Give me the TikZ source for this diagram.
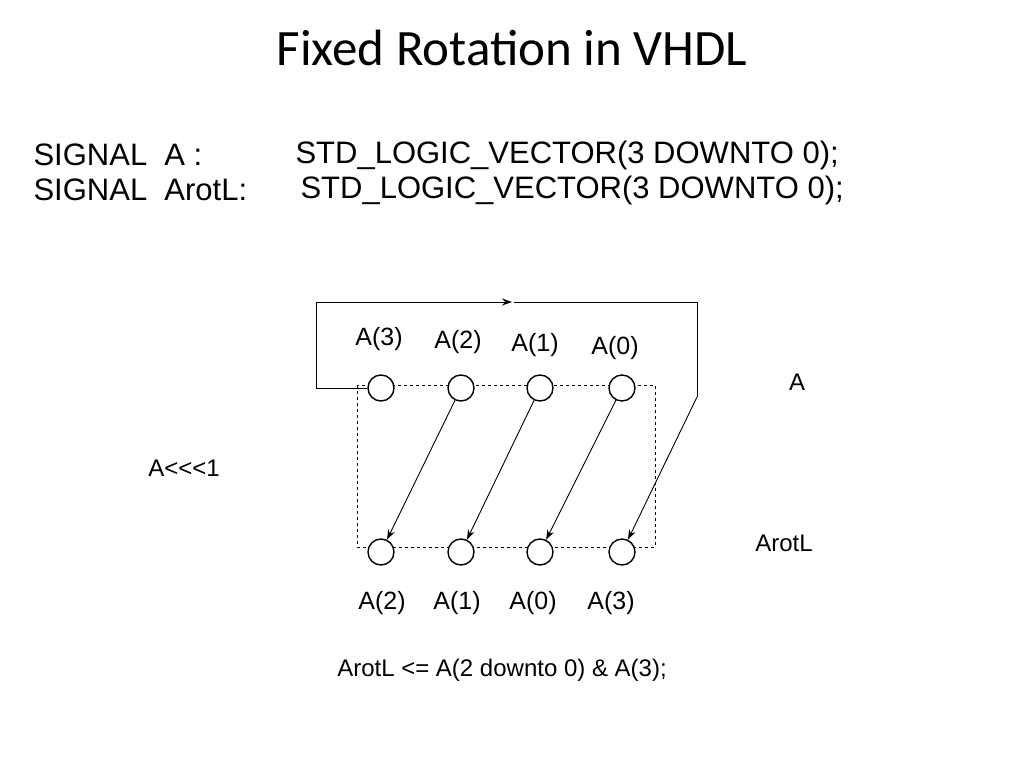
\documentclass[tikz,border=0pt]{standalone}
\usepackage{fontspec}
\setmainfont{Liberation Sans}
\newfontfamily\titlefont{Carlito}
\usetikzlibrary{arrows.meta}
\begin{document}
\begin{tikzpicture}[x=1pt,y=-1pt,
  bit/.style={circle,draw,line width=1.4pt,minimum size=26pt,inner sep=0pt},
  lbl/.style={font=\fontsize{25}{28}\selectfont},
  small/.style={font=\fontsize{24}{28}\selectfont},
  code/.style={font=\fontsize{31}{36}\selectfont,anchor=west},
  arr/.style={-{Stealth[length=10pt,width=7pt]},line width=0.9pt}]
\useasboundingbox (0,0) rectangle (1024,768);
\node[font=\titlefont\fontsize{51}{58}\selectfont] (title) at (512,48) {Fixed Rotation in VHDL};
\node[code] (c1) at (30,155) {SIGNAL\ \ A :};
\node[code] (c1b) at (292,155) {STD\_LOGIC\_VECTOR(3 DOWNTO 0);};
\node[code] (c2) at (30,190) {SIGNAL\ \ ArotL:};
\node[code] (c2b) at (297,190) {STD\_LOGIC\_VECTOR(3 DOWNTO 0);};
\draw[dashed,line width=0.7pt] (357,385) rectangle (655,547);
\foreach \i/\x in {3/381,2/461,1/540,0/622}{
  \node[bit,fill=white] (t\i) at (\x,388) {};
}
\foreach \i/\x in {0/381,1/461,2/540,3/622}{
  \node[bit,fill=white] (b\i) at (\x,552) {};
}
\node[lbl] (l3) at (379,339) {A(3)};
\node[lbl] (l2) at (458,342) {A(2)};
\node[lbl] (l1) at (535,345) {A(1)};
\node[lbl] (l0) at (615,348) {A(0)};
\node[lbl] (m0) at (382,603) {A(2)};
\node[lbl] (m1) at (457,603) {A(1)};
\node[lbl] (m2) at (533,603) {A(0)};
\node[lbl] (m3) at (611,603) {A(3)};
\node[small] (na) at (797,382) {A};
\node[small] (nr) at (784,543) {ArotL};
\node[small] (ns) at (184,468) {A{<}{<}{<}1};
\node[small] (eq) at (502,670) {ArotL {<}= A(2 downto 0) \& A(3);};
\draw[arr] (t2) -- (b0);
\draw[arr] (t1) -- (b1);
\draw[arr] (t0) -- (b2);
\coordinate (p1) at (316,388);
\coordinate (p2) at (316,302);
\coordinate (p3) at (512,302);
\coordinate (p4) at (514,302);
\coordinate (p5) at (697,302);
\coordinate (p6) at (697,397);
\draw[line width=0.9pt] (t3.west) -- (p1) -- (p2);
\draw[arr] (p2) -- (p3);
\draw[line width=0.9pt] (p4) -- (p5) -- (p6);
\draw[arr] (p6) -- (b3);
\end{tikzpicture}
\end{document}
